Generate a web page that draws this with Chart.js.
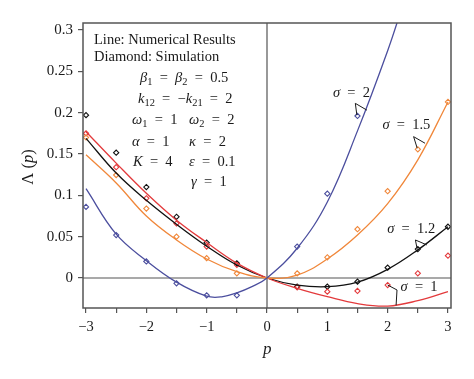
<!DOCTYPE html>
<html>
<head>
<meta charset="utf-8">
<script src="https://cdn.jsdelivr.net/npm/chart.js@4.4.1/dist/chart.umd.min.js"></script>
<style>
  html, body { margin: 0; padding: 0; background: #fff; }
  #wrap { width: 474px; height: 379px; position: relative; }
</style>
</head>
<body>
<div id="wrap"><canvas id="c"></canvas></div>
<script>
"use strict";

// numerical curves
const P_LINE = [-3, -2.5, -2, -1.5, -1, -0.5, 0, 0.5, 1, 1.5, 2, 2.5, 3];
const P_BLUE = [-3, -2.5, -2, -1.5, -1, -0.75, -0.5, -0.25, 0, 0.5, 1, 1.5, 2, 2.25];
const lineSigma2 = [0.108, 0.053, 0.021, -0.005, -0.022, -0.0228, -0.018, -0.0105, 0, 0.036, 0.092, 0.178, 0.275, 0.33];
const lineSigma15 = [0.149, 0.115, 0.075, 0.046, 0.023, 0.0077, 0, 0.0036, 0.023, 0.052, 0.090, 0.143, 0.213];
const lineSigma12 = [0.169, 0.127, 0.094, 0.065, 0.0385, 0.0157, 0, -0.0085, -0.0105, -0.005, 0.0105, 0.034, 0.062];
const lineSigma1 = [0.177, 0.139, 0.1025, 0.070, 0.043, 0.018, 0, -0.0125, -0.0226, -0.031, -0.034, -0.0274, -0.0165];

// simulation diamonds
const P_SIM = [-3, -2.5, -2, -1.5, -1, -0.5, 0.5, 1, 1.5, 2, 2.5, 3];
const simSigma2 = [0.086, 0.052, 0.020, -0.0065, -0.021, -0.021, 0.038, 0.102, 0.196, null, null, null];
const simSigma15 = [0.170, 0.1246, 0.084, 0.050, 0.024, 0.0056, 0.0056, 0.025, 0.059, 0.105, 0.1557, 0.213];
const simSigma12 = [0.197, 0.1516, 0.110, 0.074, 0.0427, 0.0177, -0.0105, -0.0105, -0.0044, 0.0125, 0.035, 0.062];
const simSigma1 = [0.175, 0.134, 0.0964, 0.066, 0.038, 0.016, -0.0113, -0.0165, -0.0157, -0.0085, 0.0057, 0.027];

const X_TICKS = [-3, -2, -1, 0, 1, 2, 3];
const Y_TICKS = [0, 0.05, 0.1, 0.15, 0.2, 0.25, 0.3];

const BLUE = "#4b4e9e";
const ORANGE = "#f0873a";
const BLACK = "#111111";
const RED = "#e33a3c";
const AXIS = "#555555";
const SERIF = '"Liberation Serif", "DejaVu Serif", serif';
const EQ = "\u2002=\u2002";

// sigma labels with their pointer lines, in data units
const sigmaNotes = [
  { text: [["σ", "i"], [EQ + "2", ""]], at: [1.40, 0.2238],
    vertex: [1.464, 0.2113], ends: [[1.657, 0.203], [1.49, 0.197]] },
  { text: [["σ", "i"], [EQ + "1.5", ""]], at: [2.31, 0.185],
    vertex: [2.43, 0.171], ends: [[2.62, 0.163], [2.49, 0.157]] },
  { text: [["σ", "i"], [EQ + "1.2", ""]], at: [2.39, 0.059],
    vertex: [2.46, 0.046], ends: [[2.65, 0.040], [2.49, 0.0347]] },
  { text: [["σ", "i"], [EQ + "1", ""]], at: [2.52, -0.011],
    vertex: [2.155, -0.0145], ends: [[2.14, -0.033], [2.0, -0.0085]] },
];

// parameter block, offsets from top-left of plot area
const paramRows = [
  { dx: 11, dy: 21, segs: [["Line: Numerical Results", ""]] },
  { dx: 11, dy: 38, segs: [["Diamond: Simulation", ""]] },
  { dx: 57, dy: 59, segs: [["β", "i"], ["1", "s"], [EQ, ""], ["β", "i"], ["2", "s"], [EQ + "0.5", ""]] },
  { dx: 55, dy: 80, segs: [["k", "i"], ["12", "s"], [EQ + "\u2212", ""], ["k", "i"], ["21", "s"], [EQ + "2", ""]] },
  { dx: 49, dy: 101, segs: [["ω", "i"], ["1", "s"], [EQ + "1", ""]] },
  { dx: 106, dy: 101, segs: [["ω", "i"], ["2", "s"], [EQ + "2", ""]] },
  { dx: 49, dy: 123, segs: [["α", "i"], [EQ + "1", ""]] },
  { dx: 106, dy: 123, segs: [["κ", "i"], [EQ + "2", ""]] },
  { dx: 50, dy: 143, segs: [["K", "i"], [EQ + "4", ""]] },
  { dx: 106, dy: 143, segs: [["ε", "i"], [EQ + "0.1", ""]] },
  { dx: 108, dy: 163, segs: [["γ", "i"], [EQ + "1", ""]] },
];

function pts(xs, ys) {
  const out = [];
  for (let i = 0; i < xs.length; i++) {
    if (ys[i] != null) out.push({ x: xs[i], y: ys[i] });
  }
  return out;
}

function lineSet(xs, ys, color) {
  return {
    data: pts(xs, ys),
    showLine: true,
    borderColor: color,
    borderWidth: 1.3,
    pointRadius: 0,
    tension: 0.4,
    fill: false,
  };
}

function simSet(ys, color) {
  return {
    data: pts(P_SIM, ys),
    showLine: false,
    pointStyle: "rectRot",
    pointRadius: 2.6,
    borderColor: color,
    borderWidth: 1.1,
    backgroundColor: "rgba(255,255,255,0)",
  };
}

function richWidth(ctx, segs, size) {
  let w = 0;
  for (const [t, st] of segs) {
    const fs = st.includes("s") ? size * 0.72 : size;
    ctx.font = (st.includes("i") ? "italic " : "") + fs + "px " + SERIF;
    w += ctx.measureText(t).width;
  }
  return w;
}

function drawRich(ctx, x, y, segs, size) {
  let cx = x;
  for (const [t, st] of segs) {
    const sub = st.includes("s");
    const fs = sub ? size * 0.72 : size;
    ctx.font = (st.includes("i") ? "italic " : "") + fs + "px " + SERIF;
    ctx.fillText(t, cx, sub ? y + size * 0.22 : y);
    cx += ctx.measureText(t).width;
  }
}

const decor = {
  id: "decor",
  beforeDatasetsDraw(chart) {
    const { ctx, chartArea: a, scales } = chart;
    const x0 = scales.x.getPixelForValue(0);
    const y0 = scales.y.getPixelForValue(0);
    ctx.save();
    ctx.strokeStyle = AXIS;
    ctx.lineWidth = 1.2;
    ctx.beginPath();
    ctx.moveTo(x0, a.top);
    ctx.lineTo(x0, a.bottom);
    ctx.moveTo(a.left, y0);
    ctx.lineTo(a.right, y0);
    ctx.stroke();
    ctx.restore();
  },
  afterDatasetsDraw(chart) {
    const { ctx, chartArea: a, scales } = chart;
    const sx = scales.x, sy = scales.y;
    ctx.save();
    // frame
    ctx.strokeStyle = AXIS;
    ctx.lineWidth = 1.5;
    ctx.strokeRect(a.left, a.top, a.right - a.left, a.bottom - a.top);

    ctx.fillStyle = "#1a1a1a";
    ctx.textBaseline = "alphabetic";
    ctx.textAlign = "left";
    for (const r of paramRows) {
      drawRich(ctx, a.left + r.dx, a.top + r.dy, r.segs, 14.5);
    }

    // sigma labels + pointers
    ctx.strokeStyle = "#1a1a1a";
    ctx.lineWidth = 1;
    for (const n of sigmaNotes) {
      const w = richWidth(ctx, n.text, 14.5);
      ctx.textBaseline = "middle";
      drawRich(ctx, sx.getPixelForValue(n.at[0]) - w / 2, sy.getPixelForValue(n.at[1]), n.text, 14.5);
      const vx = sx.getPixelForValue(n.vertex[0]);
      const vy = sy.getPixelForValue(n.vertex[1]);
      ctx.beginPath();
      for (const e of n.ends) {
        ctx.moveTo(vx, vy);
        ctx.lineTo(sx.getPixelForValue(e[0]), sy.getPixelForValue(e[1]));
      }
      ctx.stroke();
    }

    // axis titles
    ctx.textBaseline = "middle";
    drawRich(ctx, sx.getPixelForValue(0) - 4, 350, [["p", "i"]], 17);
    ctx.translate(29, 167);
    ctx.rotate(-Math.PI / 2);
    const ttl = [["Λ", ""], [" (", ""], ["p", "i"], [")", ""]];
    drawRich(ctx, -richWidth(ctx, ttl, 16.5) / 2, 0, ttl, 16.5);
    ctx.restore();
  },
};

function fmt(v) {
  const r = Math.round(v * 100) / 100;
  return r < 0 ? "\u2212" + Math.abs(r) : String(r);
}

new Chart(document.getElementById("c"), {
  type: "scatter",
  data: {
    datasets: [
      lineSet(P_BLUE, lineSigma2, BLUE),
      lineSet(P_LINE, lineSigma15, ORANGE),
      lineSet(P_LINE, lineSigma1, RED),
      lineSet(P_LINE, lineSigma12, BLACK),
      simSet(simSigma2, BLUE),
      simSet(simSigma15, ORANGE),
      simSet(simSigma1, RED),
      simSet(simSigma12, BLACK),
    ],
  },
  options: {
    responsive: true,
    maintainAspectRatio: false,
    animation: false,
    layout: { padding: { left: 0, right: 23, top: 23, bottom: 0 } },
    plugins: { legend: { display: false }, tooltip: { enabled: false } },
    scales: {
      x: {
        type: "linear",
        min: -3.05,
        max: 3.05,
        afterFit(s) { s.height = 71; },
        border: { display: false },
        grid: { drawOnChartArea: false, drawTicks: true, tickLength: 5, color: AXIS, lineWidth: 1.2 },
        ticks: {
          stepSize: 0.5,
          includeBounds: false,
          autoSkip: false,
          maxRotation: 0,
          padding: 5,
          color: "#1a1a1a",
          font: { family: SERIF, size: 14.5 },
          callback(v) {
            return X_TICKS.some((t) => Math.abs(t - v) < 1e-6) ? fmt(v) : "";
          },
        },
      },
      y: {
        min: -0.0363,
        max: 0.3085,
        afterFit(s) { s.width = 83; },
        border: { display: false },
        grid: { drawOnChartArea: false, drawTicks: true, tickLength: 5, color: AXIS, lineWidth: 1.2 },
        ticks: {
          stepSize: 0.05,
          includeBounds: false,
          autoSkip: false,
          padding: 5,
          color: "#1a1a1a",
          font: { family: SERIF, size: 15 },
          callback(v) {
            return Y_TICKS.some((t) => Math.abs(t - v) < 1e-6) ? fmt(v) : "";
          },
        },
      },
    },
  },
  plugins: [decor],
});
</script>
</body>
</html>
